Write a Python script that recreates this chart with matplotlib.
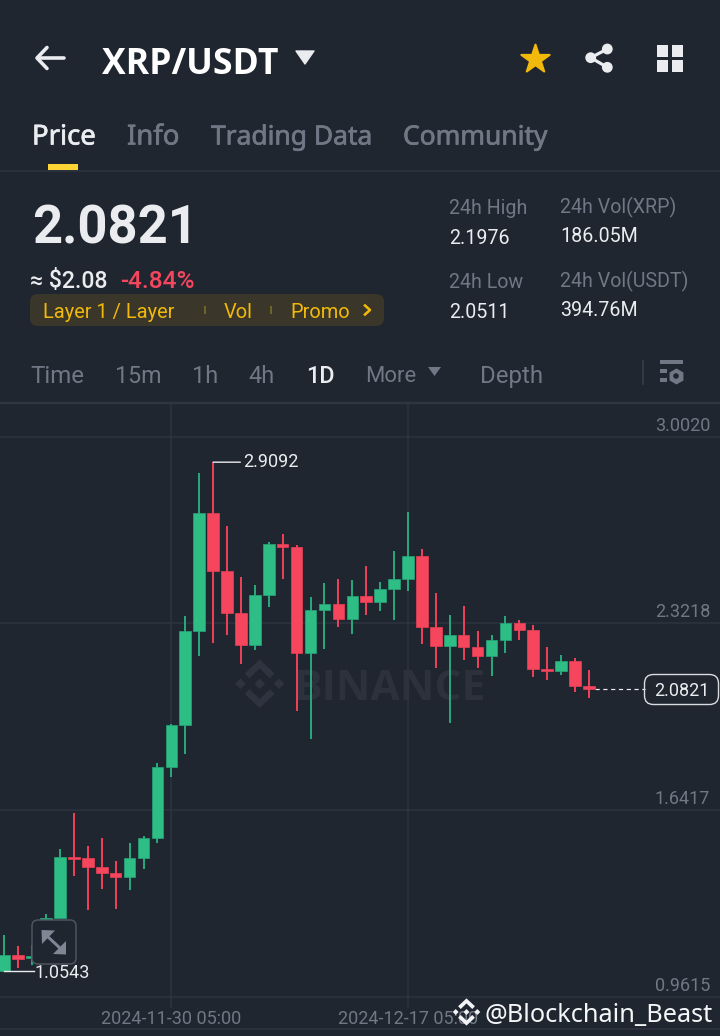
import matplotlib
matplotlib.use("Agg")
import matplotlib.pyplot as plt
import matplotlib.patheffects as pe
from matplotlib.patches import Polygon, Circle, FancyBboxPatch, Rectangle

# daily candles
opens = [1.055, 1.113, 1.102, 1.106, 1.247, 1.471, 1.4665, 1.433, 1.413, 1.397, 1.468,
         1.541, 1.799, 1.950, 2.293, 2.723, 2.511, 2.358, 2.244, 2.425, 2.610, 2.600,
         2.212, 2.370, 2.393, 2.338, 2.422, 2.400, 2.446, 2.483, 2.567, 2.310, 2.239,
         2.279, 2.237, 2.203, 2.261, 2.323, 2.297, 2.156, 2.148, 2.184, 2.0945]
highs = [1.186, 1.147, 1.149, 1.262, 1.498, 1.629, 1.511, 1.538, 1.457, 1.520, 1.547,
         1.813, 1.956, 2.349, 2.871, 2.9092, 2.678, 2.492, 2.462, 2.617, 2.646, 2.606,
         2.418, 2.469, 2.483, 2.479, 2.531, 2.473, 2.586, 2.727, 2.591, 2.431, 2.354,
         2.385, 2.293, 2.279, 2.350, 2.333, 2.315, 2.237, 2.207, 2.197, 2.152]
lows = [1.0543, 1.067, 1.077, 1.080, 1.247, 1.402, 1.277, 1.354, 1.282, 1.351, 1.428,
        1.522, 1.763, 1.846, 2.201, 2.250, 2.280, 2.174, 2.225, 2.383, 2.483, 2.001,
        1.899, 2.230, 2.308, 2.283, 2.354, 2.367, 2.333, 2.440, 2.247, 2.160, 1.960,
        2.190, 2.160, 2.130, 2.213, 2.261, 2.127, 2.115, 2.134, 2.070, 2.050]
closes = [1.112, 1.0985, 1.108, 1.247, 1.470, 1.464, 1.433, 1.413, 1.397, 1.468, 1.541,
          1.799, 1.950, 2.293, 2.723, 2.511, 2.358, 2.244, 2.425, 2.610, 2.600, 2.212,
          2.370, 2.393, 2.338, 2.422, 2.400, 2.446, 2.483, 2.567, 2.310, 2.239, 2.279,
          2.237, 2.203, 2.261, 2.323, 2.297, 2.156, 2.148, 2.184, 2.0945, 2.0821]
price_ticks = [3.0020, 2.3218, 1.6417, 0.9615]
date_pos = [12, 29]
date_labels = ["2024-11-30 05:00", "2024-12-17 05:00"]
high_idx, low_idx = 15, 0
last_price = 2.0821

BG = "#1f2630"
GRID = "#2d333f"
GREEN = "#2ebd85"
RED = "#f6465d"
GREEN_W = "#27a67a"
RED_W = "#ec3f58"
GREY = "#717885"
WHITE = "#eaecef"
YELLOW = "#f0b90b"
UIFONT = "Noto Sans"
NUMFONT = "Roboto"
PX = 0.72  # 1 px in points at dpi 100

fig = plt.figure(figsize=(7.2, 10.36), dpi=100, facecolor=BG)

# pixel space axes for the app chrome
ui = fig.add_axes([0, 0, 1, 1], zorder=0)
ui.set_xlim(0, 720)
ui.set_ylim(1036, 0)
ui.axis("off")

top = fig.add_axes([0, 0, 1, 1], zorder=3)
top.set_xlim(0, 720)
top.set_ylim(1036, 0)
top.axis("off")

ax = fig.add_axes([0, (1036 - 1008) / 1036, 1, (1008 - 404) / 1036], zorder=1)
ax.patch.set_alpha(0)
ax.set_xlim(-0.309, 51.415)
ax.set_ylim(0.9200, 3.1212)
for s in ax.spines.values():
    s.set_visible(False)

ax.set_yticks(price_ticks)
ax.set_yticklabels([])
ax.set_xticks(date_pos)
ax.set_xticklabels(date_labels, family=NUMFONT, fontsize=18 * PX, color=GREY)
ax.tick_params(length=0, pad=1.7)
ax.set_axisbelow(True)
ax.grid(True, color=GRID, linewidth=1.5 * PX)

for p in price_ticks:
    ax.annotate(f"{p:.4f}", xy=(1, p), xycoords=ax.get_yaxis_transform(),
                xytext=(-10 * PX, 11 * PX), textcoords="offset points",
                ha="right", va="center", family=NUMFONT, fontsize=18 * PX, color=GREY)

# candles
for i, (o, h, l, c) in enumerate(zip(opens, highs, lows, closes)):
    up = c >= o
    ax.vlines(i, l, h, color=GREEN_W if up else RED_W, linewidth=2 * PX, zorder=3)
    ax.bar(i, abs(c - o), bottom=min(o, c), width=0.83, color=GREEN if up else RED,
           edgecolor=GREEN_W if up else RED_W, linewidth=0.7 * PX, zorder=4)

# high / low markers
ax.annotate(f"{highs[high_idx]:.4f}", xy=(high_idx, highs[high_idx]), xytext=(30 * PX, 0),
            textcoords="offset points", ha="left", va="center", family=NUMFONT,
            fontsize=18 * PX, color=WHITE, zorder=6,
            arrowprops=dict(arrowstyle="-", color=WHITE, lw=1.4 * PX, shrinkA=0, shrinkB=0))
ax.plot([low_idx, low_idx + 2.1], [lows[low_idx], lows[low_idx]], color=WHITE, lw=1.4 * PX, zorder=6)
ax.annotate(f"{lows[low_idx]:.4f}", xy=(low_idx, lows[low_idx]), xytext=(30 * PX, -1.5 * PX),
            textcoords="offset points", ha="left", va="center", family=NUMFONT,
            fontsize=18 * PX, color=WHITE, zorder=6)

# last price line and label
ax.plot([42.4, 46.0], [last_price, last_price], color=WHITE, lw=1.2 * PX,
        linestyle=(0, (3.5, 3)), zorder=2)
ax.annotate(f"{last_price:.4f}", xy=(1, last_price), xycoords=ax.get_yaxis_transform(),
            xytext=(-38.5 * PX, -1.5 * PX), textcoords="offset points", ha="center", va="center",
            family=NUMFONT, fontsize=18 * PX, color=WHITE, zorder=7)
top.add_patch(FancyBboxPatch((651, 681), 61, 17, boxstyle="round,pad=6.5,rounding_size=9",
                             fc="none", ec="#d8dbe0", lw=1.4 * PX, zorder=1))


def label(target, x, y, s, size, color, family=UIFONT, weight="normal", ha="left", stroke=0):
    t = target.text(x, y, s, fontsize=size * PX, color=color, family=family, weight=weight,
                    ha=ha, va="center_baseline")
    if stroke:
        t.set_path_effects([pe.withStroke(linewidth=stroke, foreground=color)])
    return t


def hline(y, lw=1.5, color="#2f3541"):
    ui.plot([0, 720], [y, y], color=color, lw=lw * PX, solid_capstyle="butt")


def binance_logo(target, cx, cy, k, color, zorder=2):
    hs = 5.3 * k
    for dx, dy in [(0, 0), (-19.3 * k, 0), (19.3 * k, 0)]:
        target.add_patch(Polygon([(cx + dx, cy + dy - hs), (cx + dx + hs, cy + dy),
                                  (cx + dx, cy + dy + hs), (cx + dx - hs, cy + dy)],
                                 fc=color, ec="none", zorder=zorder))
    for sgn in (1, -1):
        pts = [(0, 24.3), (15, 10.3), (10.3, 5.3), (0, 15.3), (-10.3, 5.3), (-15, 10.3)]
        target.add_patch(Polygon([(cx + a * k, cy - sgn * b * k) for a, b in pts],
                                 fc=color, ec="none", zorder=zorder))


# header bar
ui.plot([38, 64], [58, 58], color=WHITE, lw=3.6 * PX, solid_capstyle="round")
ui.plot([47, 37, 47], [47.5, 58, 68.5], color=WHITE, lw=3.6 * PX, solid_capstyle="round",
        solid_joinstyle="round")
label(ui, 102, 60, "XRP/USDT", 35.5, "#ffffff", family="Open Sans", weight="bold")
ui.add_patch(Polygon([(296, 51), (314, 51), (305, 64)], fc=WHITE, ec=WHITE, lw=1, joinstyle="round"))
ui.scatter([535], [58.5], marker="*", s=(29 * PX) ** 2 * 1.05, color=YELLOW, linewidths=1.5,
           edgecolors=YELLOW, zorder=3)
ui.plot([607.3, 590.7, 607.3], [49, 57.7, 67.3], color=WHITE, lw=3.2 * PX)
for cx, cy in [(590.7, 57.7), (607.3, 49), (607.3, 67.3)]:
    ui.add_patch(Circle((cx, cy), 5.4, fc=WHITE, ec="none", zorder=3))
for x0 in (656.7, 671.7):
    for y0 in (45, 60):
        ui.add_patch(Rectangle((x0, y0), 11.7, 11.7, fc=WHITE, ec="none"))

# tabs
label(ui, 32, 134, "Price", 27.5, WHITE, stroke=0.5)
label(ui, 127, 134, "Info", 27.5, GREY, stroke=0.5)
label(ui, 211, 134, "Trading Data", 26.4, GREY, stroke=0.5)
label(ui, 403, 134, "Community", 26.4, GREY, stroke=0.5)
ui.add_patch(Rectangle((48, 164), 30, 6, fc="#fcd535", ec="none", zorder=3))
hline(170.5)

# price block
label(ui, 32, 224, "2.0821", 52.5, WHITE, family=NUMFONT, weight="bold")
label(ui, 30, 279, "≈ $2.08", 23, WHITE, family=NUMFONT, weight="medium")
label(ui, 120, 279, "-4.84%", 24.5, RED, family=NUMFONT, weight="medium")
ui.add_patch(FancyBboxPatch((36, 300), 342, 20, boxstyle="round,pad=6,rounding_size=8",
                            fc="#3a3629", ec="none"))
label(ui, 43, 310, "Layer 1 / Layer", 20, YELLOW, family=NUMFONT)
label(ui, 224, 310, "Vol", 20, YELLOW, family=NUMFONT)
label(ui, 290, 310, "Promo", 20, YELLOW, family=NUMFONT)
for x in (205, 270.5):
    ui.plot([x, x], [306, 314], color="#6f6426", lw=2 * PX, solid_capstyle="butt")
ui.plot([365, 370, 365], [305.5, 310, 314.5], color=YELLOW, lw=2.6 * PX)

# 24h stats
for x, y, s, c in [(449, 207, "24h High", GREY), (449, 236, "2.1976", WHITE),
                   (449, 281, "24h Low", GREY), (449, 310, "2.0511", WHITE),
                   (560, 205, "24h Vol(XRP)", GREY), (560, 234, "186.05M", WHITE),
                   (560, 279, "24h Vol(USDT)", GREY), (560, 308, "394.76M", WHITE)]:
    label(ui, x, y, s, 19.7, c, family=NUMFONT)

# timeframe row
for x, s, size in [(30, "Time", 24), (115, "15m", 23.3), (192, "1h", 23.5), (248, "4h", 23.5),
                   (365, "More", 22), (480, "Depth", 24)]:
    label(ui, x, 374, s, size, GREY, family=NUMFONT)
label(ui, 306, 374, "1D", 23.5, WHITE, family=NUMFONT, weight="medium")
ui.add_patch(Polygon([(428, 367), (441, 367), (434.5, 376)], fc=GREY, ec="none"))
ui.plot([642.5, 642.5], [361, 384], color="#3a404c", lw=1.5 * PX)
ui.add_patch(Rectangle((660, 360), 23, 4, fc=GREY, ec="none"))
ui.add_patch(Rectangle((660, 369), 7, 3.5, fc=GREY, ec="none"))
ui.add_patch(Rectangle((660, 378), 7, 3.5, fc=GREY, ec="none"))
ui.scatter([676], [376], marker="h", s=(16 * PX) ** 2, color=GREY, linewidths=0, zorder=3)
ui.add_patch(Circle((676, 376), 2.8, fc=BG, ec="none", zorder=4))

# chart frame and watermark
hline(402.5, lw=2.5)
hline(1029)
binance_logo(ui, 259.7, 683.7, 1.0, "#2e333f")
label(ui, 293, 684, "BINANCE", 42.5, "#2c313c", family="Open Sans", weight="bold")

# expand button sits over the candles
top.add_patch(FancyBboxPatch((36, 924), 36, 36, boxstyle="round,pad=4,rounding_size=6",
                             fc="#1f2630", ec="#4f5561", lw=1.5 * PX, zorder=2))
top.plot([46, 62], [935, 950], color="#7f8694", lw=3 * PX, zorder=3)
top.add_patch(Polygon([(41.5, 930), (55, 930.5), (42, 944)], fc="#7f8694", ec="none", zorder=3))
top.add_patch(Polygon([(66, 954.5), (53, 954), (66, 941)], fc="#7f8694", ec="none", zorder=3))

# user tag
binance_logo(top, 466.5, 1012, 0.56, "#f2f3f5")
label(top, 485, 1012, "@Blockchain_Beast", 25.3, "#f5f6f7")

fig.savefig("out.png", dpi=100, facecolor=BG)
